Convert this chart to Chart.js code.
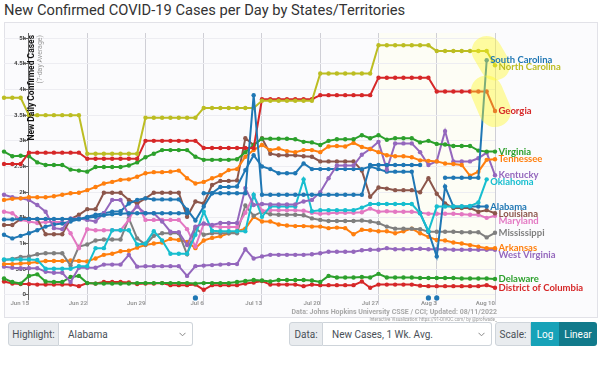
<!DOCTYPE html>
<html>
<head>
<meta charset="utf-8">
<title>New Confirmed COVID-19 Cases per Day</title>
<script src="https://cdn.jsdelivr.net/npm/chart.js@4.4.1/dist/chart.umd.min.js"></script>
<style>
  html, body { margin: 0; padding: 0; background: #fff; }
  body { width: 600px; height: 386px; position: relative; overflow: hidden; font-family: Roboto, "Noto Sans", sans-serif; }
  #title { position: absolute; left: 4px; top: 1px; font-size: 14.7px; color: #333; white-space: nowrap; }
  #frame { position: absolute; left: 4px; top: 22px; width: 594px; height: 296px; border: 1px solid #e2e2e8; background: #fbfbfd; box-sizing: border-box; }
  #chartBox { position: absolute; left: 0; top: 0; width: 600px; height: 320px; }
  #credit { position: absolute; right: 103px; top: 308px; font-size: 7px; font-weight: bold; color: #a8a8a8; white-space: nowrap; }
  #credit2 { position: absolute; right: 103px; top: 317px; font-size: 4.5px; color: #999; white-space: nowrap; }
  .grp { position: absolute; top: 322px; height: 24px; display: flex; font-size: 10px; color: #495057; }
  .lbl { background: #e9ecef; border: 1px solid #ced4da; border-radius: 3px 0 0 3px; display: flex; align-items: center; justify-content: center; box-sizing: border-box; }
  .sel { background: #fff; border: 1px solid #ced4da; border-left: none; border-radius: 0 3px 3px 0; display: flex; align-items: center; padding-left: 9px; position: relative; box-sizing: border-box; }
  .sel svg { position: absolute; right: 6px; top: 9px; }
  .btn { color: #fff; display: flex; align-items: center; justify-content: center; box-sizing: border-box; }
</style>
</head>
<body>
<div id="title">New Confirmed COVID-19 Cases per Day by States/Territories</div>
<div id="frame"></div>
<div id="chartBox"><canvas id="casesChart"></canvas></div>
<div id="credit">Data: Johns Hopkins University CSSE / CCI; Updated: 08/11/2022</div>
<div id="credit2">Interactive Visualization: https://91-DIVOC.com/ by @profwade_</div>

<div class="grp" style="left:8px;width:185px;">
  <div class="lbl" style="width:51px;">Highlight:</div>
  <div class="sel" style="width:134px;">Alabama<svg width="7" height="5" viewBox="0 0 7 5"><path d="M0.5 0.8 L3.5 3.8 L6.5 0.8" fill="none" stroke="#888" stroke-width="1"/></svg></div>
</div>
<div class="grp" style="left:289px;width:203px;">
  <div class="lbl" style="width:34px;">Data:</div>
  <div class="sel" style="width:169px;">New Cases, 1 Wk. Avg.<svg width="7" height="5" viewBox="0 0 7 5"><path d="M0.5 0.8 L3.5 3.8 L6.5 0.8" fill="none" stroke="#888" stroke-width="1"/></svg></div>
</div>
<div class="grp" style="left:495px;width:102px;">
  <div class="lbl" style="width:36px;">Scale:</div>
  <div class="btn" style="width:28px;background:#17a2b8;">Log</div>
  <div class="btn" style="width:38px;background:#117a8b;border-radius:0 3px 3px 0;">Linear</div>
</div>

<script>
document.addEventListener('DOMContentLoaded', function() {

  // Days shown on the x axis
  const dates = [
    'Jun 12','Jun 13','Jun 14','Jun 15','Jun 16','Jun 17','Jun 18','Jun 19','Jun 20','Jun 21',
    'Jun 22','Jun 23','Jun 24','Jun 25','Jun 26','Jun 27','Jun 28','Jun 29','Jun 30','Jul 1',
    'Jul 2','Jul 3','Jul 4','Jul 5','Jul 6','Jul 7','Jul 8','Jul 9','Jul 10','Jul 11',
    'Jul 12','Jul 13','Jul 14','Jul 15','Jul 16','Jul 17','Jul 18','Jul 19','Jul 20','Jul 21',
    'Jul 22','Jul 23','Jul 24','Jul 25','Jul 26','Jul 27','Jul 28','Jul 29','Jul 30','Jul 31',
    'Aug 1','Aug 2','Aug 3','Aug 4','Aug 5','Aug 6','Aug 7','Aug 8','Aug 9','Aug 10'
  ];
  const tickDates = ['Jun 15','Jun 22','Jun 29','Jul 6','Jul 13','Jul 20','Jul 27','Aug 3','Aug 10'];
  const yTicks = [0, 500, 1000, 1500, 2000, 2500, 3000, 3500, 4000, 4500, 5000];

  // New cases, 7-day average
  const northCarolina = [3840,3840,3840,3500,3500,3500,3500,3500,3500,3500,
    2750,2750,2750,2750,2750,2750,2750,3450,3450,3450,
    3450,3450,3450,3450,3640,3640,3640,3640,3640,3640,
    3640,3780,3780,3780,3780,3780,3780,3780,4310,4310,
    4310,4310,4310,4310,4310,4860,4860,4860,4860,4860,
    4860,4860,4750,4750,4750,4750,4750,4750,4750,4470];
  const southCarolina = [1470,1470,1480,1480,1480,1480,1480,1480,1480,1480,
    1500,1520,1550,1570,1580,1590,1590,1590,1590,1590,
    1590,1590,1590,null,1980,1980,1980,1980,1980,1980,
    3890,1950,1950,1950,1950,1950,1950,1950,1950,1950,
    1950,1950,1950,1950,2530,2530,2530,2530,2530,2530,
    2530,null,null,2280,2280,2280,2280,2280,4570,null];
  const georgia = [2550,2550,2550,2770,2770,2770,2770,2770,2770,2770,
    2650,2650,2650,2650,2650,2650,2650,3000,3000,3000,
    3000,3000,3000,3000,2860,2860,2860,2860,2860,2860,
    2860,3810,3810,3810,3810,3810,3810,3810,3890,3890,
    3890,3890,3890,3890,3890,4230,4230,4230,4230,4230,
    4230,4230,3960,3960,3960,3960,3960,3960,3960,3580];
  const virginia = [2790,2700,2710,2700,2580,2530,2530,2530,2440,2420,
    2400,2490,2490,2490,2490,2520,2580,2680,2750,2820,
    2820,2820,2820,2690,2630,2630,2630,2630,2640,2780,
    2920,3040,3040,3040,3040,3030,2980,2970,2920,3000,
    3030,3030,3030,3110,3050,3110,3020,3050,3050,3050,
    2970,3000,2940,2930,2900,2900,2900,2810,2790,2790];
  const tennessee = [1850,1870,1880,1900,1900,1900,1920,1950,1980,1990,
    2040,2100,2170,2200,2240,2250,2300,2370,2390,2390,
    2400,2420,2270,2170,2200,2270,2330,2430,2450,2690,
    2820,2920,2820,2850,2800,2780,2820,2820,2780,2890,
    2900,2890,2960,2880,2840,2780,2720,2700,2700,2680,
    2620,2610,2600,2560,2550,2530,2320,2400,2630,2640];
  const kentucky = [1950,1900,1880,1850,1750,1620,1300,1280,1490,1490,
    1460,1430,1590,1850,1850,1560,1720,1590,1590,1430,
    1230,1220,970,1330,1390,1360,1400,1400,1400,2080,
    1750,1770,1760,1760,1760,1760,1820,1850,2000,2270,
    2520,2520,2520,2730,2840,2980,2440,2950,2950,2950,
    2780,2530,2600,3190,2600,2600,2600,2660,2770,2330];
  const oklahoma = [690,690,690,690,680,510,510,510,510,560,
    560,910,910,1260,1260,1260,980,1000,1240,1060,
    800,800,800,1170,1620,1250,1240,1240,1240,1240,
    1950,1520,1720,1720,1720,1720,2250,1630,1650,1650,
    1650,1650,1650,1700,1770,1770,1770,1770,1770,1770,
    1590,1240,1720,1720,1720,1720,1730,1800,2250,null];
  const alabama = [1170,1100,1150,1200,1260,1330,1370,1390,1430,1470,
    1520,1560,1590,1620,1630,1780,1850,1880,1860,1860,
    1860,1860,1660,1450,1720,1980,2100,2100,2110,2430,
    2720,2500,2450,2370,2370,2370,2560,2450,2450,2450,
    2450,2450,2450,2450,2500,2450,2400,2400,2400,2400,
    1590,1230,750,2110,1720,1720,1720,1720,1720,null];
  const louisiana = [1360,1360,1480,1480,1480,1180,1180,1180,1480,1560,
    1670,1670,1990,1990,1990,1850,1780,1880,1990,1990,
    1990,1990,1520,1820,1780,2140,2220,2220,2230,3050,
    2920,3050,2750,2720,2720,2720,2700,2690,2600,2600,
    2600,2600,2600,2420,1910,2090,2070,2040,2040,2040,
    2000,2270,1970,1780,1690,1690,1690,1620,1650,1590];
  const maryland = [1620,1590,1460,1430,1400,1420,1420,1420,1200,910,
    1280,1260,1260,1260,1260,1460,1780,1460,1460,1460,
    1460,1460,1280,940,1380,1340,1320,1320,1320,1600,
    1930,1640,1650,1650,1650,1650,1640,1600,1580,1590,
    1600,1600,1600,1610,1680,1620,1630,1620,1620,1620,
    1600,1580,1580,1580,1580,1570,1560,1560,1500,1540];
  const mississippi = [680,700,740,750,790,810,810,810,570,940,
    980,1060,1080,1080,1080,1490,1100,980,1150,1200,
    1200,1200,790,1300,1170,1200,1200,1200,1200,1740,
    1540,1620,1570,1560,1560,1560,1550,1490,1460,1440,
    1440,1440,1440,1450,1430,1400,1330,1290,1290,1290,
    1280,1230,1230,1230,1230,1220,1220,1220,1120,1210];
  const arkansas = [600,600,610,620,640,660,660,660,670,660,
    650,710,780,800,850,860,920,970,1000,1020,
    1090,1070,1030,910,1060,1110,1140,1200,1240,1290,
    1520,1430,1430,1370,1350,1340,1340,1330,1330,1300,
    1310,1300,1180,1270,1260,1240,1240,1200,1240,1290,
    1200,1130,1070,1060,1020,1000,970,940,910,910];
  const westVirginia = [550,530,520,520,520,450,430,430,250,530,
    530,530,590,590,590,780,550,560,560,560,
    560,560,370,560,570,580,590,600,600,890,
    710,750,780,780,780,780,780,790,810,840,
    840,840,840,870,880,880,910,890,890,890,
    900,890,890,890,880,880,880,880,880,880];
  const delaware = [320,250,220,370,400,260,250,250,350,370,
    230,220,220,220,220,220,230,230,230,230,
    230,230,230,220,230,230,230,230,250,270,
    290,280,260,290,290,290,290,280,250,370,
    340,340,340,350,340,410,340,340,340,340,
    330,330,330,330,330,320,320,320,320,310];
  const districtOfColumbia = [260,220,210,210,200,200,200,200,200,170,
    230,220,250,250,250,240,210,220,220,230,
    190,190,190,200,100,190,190,190,190,220,
    240,270,200,200,200,200,170,200,190,190,
    190,190,190,260,140,200,200,200,200,200,
    180,170,170,170,170,170,170,170,190,140];

  // Highlighted last days and event markers along the bottom
  const highlightNC = [{x: 'Aug 9', y: 4750}, {x: 'Aug 10', y: 4470}];
  const highlightGA = [{x: 'Aug 9', y: 3960}, {x: 'Aug 10', y: 3580}];
  const markerDays = [{x: 'Jul 5', y: -60}, {x: 'Aug 2', y: -60}, {x: 'Aug 3', y: -60}];

  const series = [
    ['South Carolina', southCarolina, '#1f77b4'],
    ['North Carolina', northCarolina, '#bcbd22'],
    ['Georgia', georgia, '#d62728'],
    ['Virginia', virginia, '#2ca02c'],
    ['Tennessee', tennessee, '#ff7f0e'],
    ['Kentucky', kentucky, '#9467bd'],
    ['Oklahoma', oklahoma, '#17becf'],
    ['Alabama', alabama, '#1f77b4'],
    ['Louisiana', louisiana, '#8c564b'],
    ['Maryland', maryland, '#e377c2'],
    ['Mississippi', mississippi, '#7f7f7f'],
    ['Arkansas', arkansas, '#ff7f0e'],
    ['West Virginia', westVirginia, '#9467bd'],
    ['Delaware', delaware, '#2ca02c'],
    ['District of Columbia', districtOfColumbia, '#d62728']
  ];

  const datasets = [
    { data: highlightNC, borderColor: 'rgba(255,248,40,0.42)', borderWidth: 30, pointRadius: 0,
      borderCapStyle: 'round', borderJoinStyle: 'round', clip: false },
    { data: highlightGA, borderColor: 'rgba(255,248,40,0.42)', borderWidth: 32, pointRadius: 0,
      borderCapStyle: 'round', borderJoinStyle: 'round', clip: false },
    { data: markerDays, showLine: false, pointRadius: 2.6, pointBorderWidth: 0,
      pointBackgroundColor: '#1f77b4', borderColor: '#1f77b4', clip: false }
  ];
  series.forEach(function(s) {
    datasets.push({
      endLabel: s[0],
      data: s[1],
      borderColor: s[2],
      backgroundColor: s[2],
      pointBackgroundColor: s[2],
      borderWidth: 2,
      pointRadius: 2.2,
      pointBorderWidth: 0,
      clip: false
    });
  });

  // Faint shading over the most recent two weeks
  const recentShade = {
    id: 'recentShade',
    beforeDraw(chart) {
      const area = chart.chartArea;
      const x0 = chart.scales.x.getPixelForValue(dates.indexOf('Jul 27'));
      const ctx = chart.ctx;
      ctx.save();
      ctx.fillStyle = '#fdfdf5';
      ctx.fillRect(x0, area.top, area.right - x0, area.bottom - area.top);
      ctx.restore();
    }
  };

  // Rotated y axis title inside the plot
  const yTitle = {
    id: 'yTitle',
    afterDatasetsDraw(chart) {
      const ctx = chart.ctx;
      ctx.save();
      ctx.translate(32, 35);
      ctx.rotate(-Math.PI / 2);
      ctx.textAlign = 'right';
      ctx.textBaseline = 'middle';
      ctx.fillStyle = '#111';
      ctx.font = 'bold 8.5px Roboto';
      ctx.fillText('New Daily Confirmed Cases', 0, 0);
      ctx.fillStyle = '#999';
      ctx.font = '7px Roboto';
      ctx.fillText('(7-day Average)', 0, 8);
      ctx.restore();
    }
  };

  // State names at the end of each line
  const endLabels = {
    id: 'endLabels',
    afterDatasetsDraw(chart) {
      const items = [];
      chart.data.datasets.forEach(function(ds, di) {
        if (!ds.endLabel) return;
        let last = ds.data.length - 1;
        while (ds.data[last] == null) last--;
        const pt = chart.getDatasetMeta(di).data[last];
        items.push({ text: ds.endLabel, x: pt.x, y: pt.y, color: ds.borderColor });
      });
      items.sort((a, b) => a.y - b.y);
      for (let i = 1; i < items.length; i++) {
        if (items[i].y - items[i - 1].y < 7) items[i].y = items[i - 1].y + 7;
      }
      const ctx = chart.ctx;
      ctx.save();
      ctx.font = 'bold 9.5px Lato';
      ctx.textBaseline = 'middle';
      items.forEach(function(it) {
        ctx.fillStyle = it.color;
        ctx.fillText(it.text, it.x + 3.5, it.y);
      });
      ctx.restore();
    }
  };

  const ctx = document.getElementById('casesChart').getContext('2d');
  new Chart(ctx, {
    type: 'line',
    data: { labels: dates, datasets: datasets },
    options: {
      responsive: true,
      maintainAspectRatio: false,
      animation: false,
      events: [],
      layout: { padding: { top: 33, left: 1, right: 105, bottom: 13 } },
      plugins: { legend: { display: false }, tooltip: { enabled: false } },
      scales: {
        x: {
          type: 'category',
          afterFit: function(scale) { scale.height = 8; },
          border: { display: false },
          grid: { color: '#cfcfd6', tickLength: 6 },
          ticks: {
            autoSkip: false,
            maxRotation: 0,
            align: 'end',
            padding: -5,
            color: '#9a9a9a',
            font: { size: 6, weight: 'bold', family: 'Roboto' },
            callback: function(v, i) { return tickDates.includes(dates[i]) ? dates[i] : null; }
          }
        },
        y: {
          position: { x: 3 },
          min: -80,
          max: 5100,
          afterBuildTicks: function(scale) { scale.ticks = yTicks.map(v => ({ value: v })); },
          border: { display: true, color: '#666' },
          grid: { color: '#ededf2', tickColor: '#666', tickLength: 3 },
          ticks: {
            color: '#444',
            font: { size: 6, weight: 'bold', family: 'Roboto' },
            // trailing en space keeps the label clear of the tick mark
            callback: function(v) { return (v === 0 ? '0' : (v >= 1000 ? (v / 1000) + 'k' : String(v))) + '\u2002'; }
          }
        }
      }
    },
    plugins: [recentShade, yTitle, endLabels]
  });
});
</script>
</body>
</html>
